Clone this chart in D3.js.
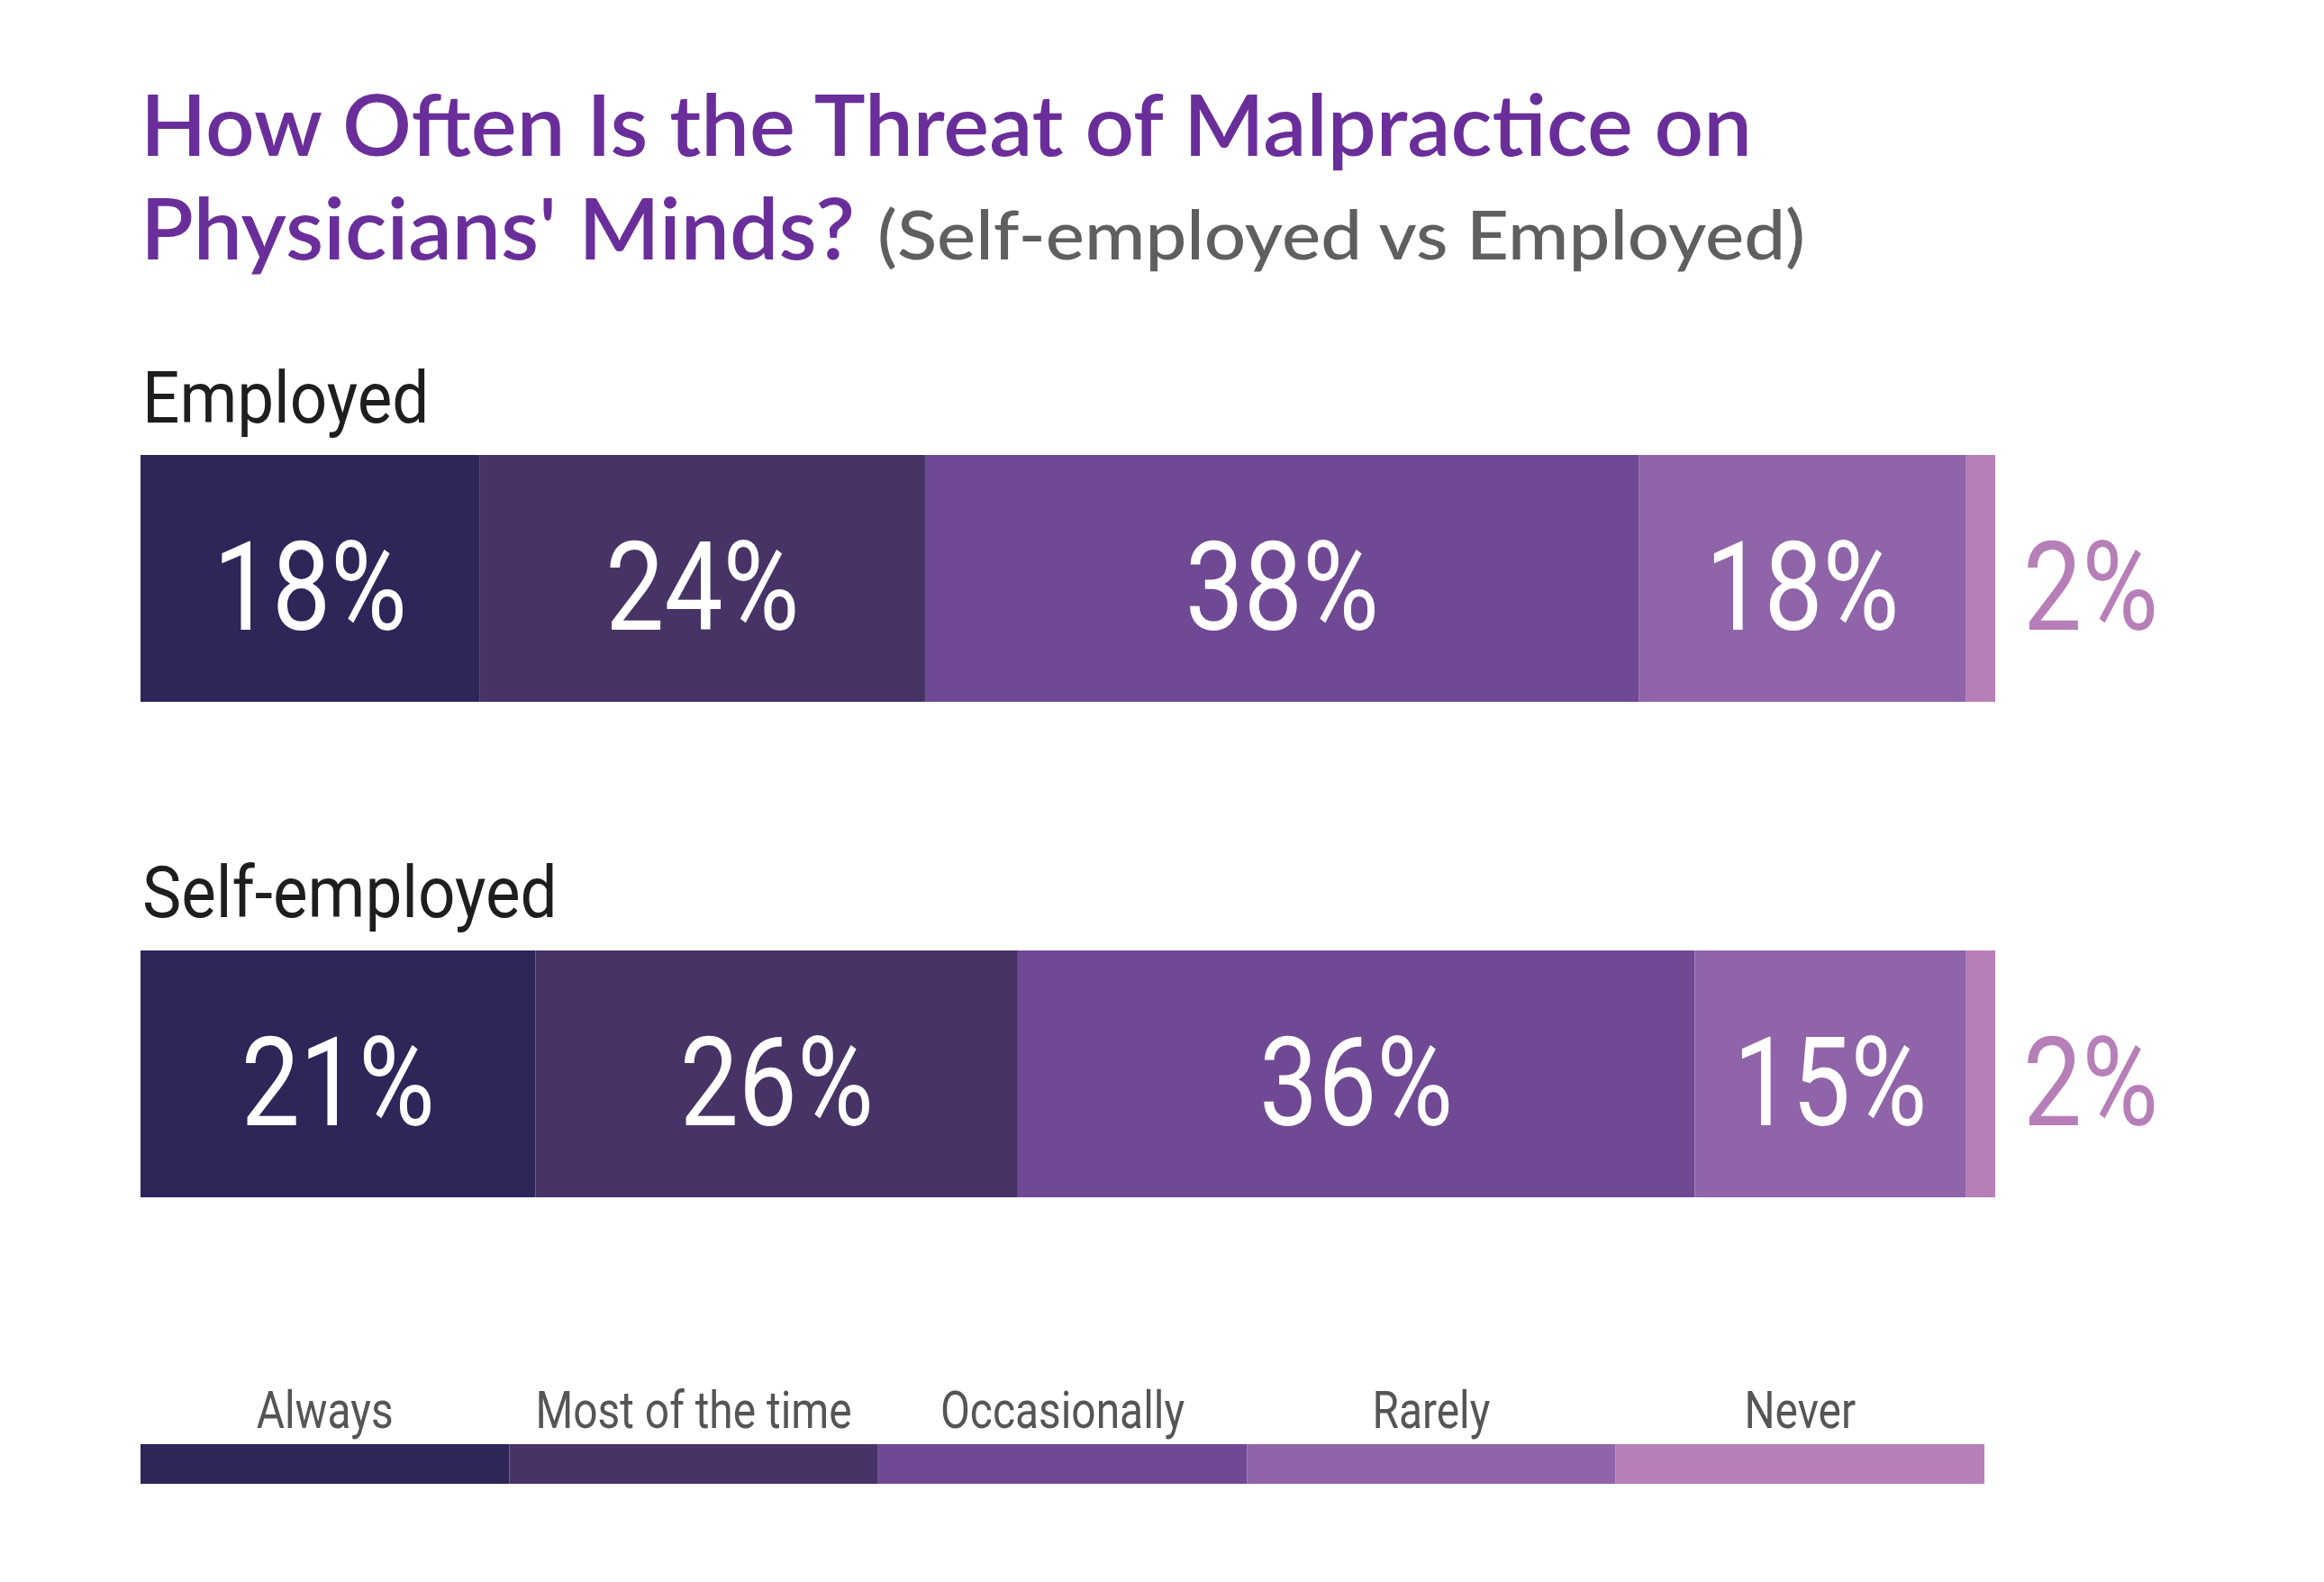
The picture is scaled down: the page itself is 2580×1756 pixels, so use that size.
<!DOCTYPE html>
<html><head><meta charset="utf-8">
<script src="https://cdn.jsdelivr.net/npm/d3@7"></script>
<style>body{margin:0;background:#fff}</style>
</head><body>
<svg id="c" width="2580" height="1756"></svg>
<script>
const titleLine1 = "How Often Is the Threat of Malpractice on";
const titleLine2 = "Physicians' Minds?";
const subtitle = "(Self-employed vs Employed)";
const groups = ["Employed", "Self-employed"];
const categories = ["Always", "Most of the time", "Occasionally", "Rarely", "Never"];
const employedValues = [18.3, 24.0, 38.5, 17.6, 1.6];
const selfEmployedValues = [21.3, 26.0, 36.5, 14.6, 1.6];
const employedLabels = ["18%", "24%", "38%", "18%", "2%"];
const selfEmployedLabels = ["21%", "26%", "36%", "15%", "2%"];
const colors = ["#2e2558", "#473366", "#704994", "#9064a8", "#b77fb8"];

const svg = d3.select("#c");
svg.append("rect").attr("width", 2580).attr("height", 1756).attr("fill", "#fff");

function fit(sel, w) {
  sel.attr("textLength", w).attr("lengthAdjust", "spacingAndGlyphs");
}
function condense(sel, k) {
  sel.each(function () {
    const n = this.getComputedTextLength();
    d3.select(this).attr("textLength", n * k).attr("lengthAdjust", "spacingAndGlyphs");
  });
}

// Title
const t1 = svg.append("text").attr("x", 156).attr("y", 173)
  .attr("font-family", "Lato").attr("font-weight", 600).attr("font-size", 94)
  .attr("fill", "#6a2e9a").text(titleLine1);
fit(t1, 1789);
const t2 = svg.append("text").attr("x", 156).attr("y", 288)
  .attr("font-family", "Lato").attr("font-weight", 600).attr("font-size", 94)
  .attr("fill", "#6a2e9a").text(titleLine2);
fit(t2, 793);
const t3 = svg.append("text").attr("x", 974).attr("y", 288)
  .attr("font-family", "Lato").attr("font-weight", 500).attr("font-size", 76)
  .attr("fill", "#5f5f5f").text(subtitle);
fit(t3, 1030);

const x = d3.scaleLinear().domain([0, 100]).range([156, 2215]);
const barH = 274;
const rows = [
  { g: groups[0], vals: employedValues, labels: employedLabels, top: 505, labelY: 469 },
  { g: groups[1], vals: selfEmployedValues, labels: selfEmployedLabels, top: 1055, labelY: 1018 }
];

rows.forEach(r => {
  let cum = 0;
  const segs = r.vals.map((v, i) => { const s = { v, i, x0: cum, x1: cum + v, label: r.labels[i] }; cum += v; return s; });
  const gl = svg.append("text").attr("x", 158).attr("y", r.labelY)
    .attr("font-family", "Roboto").attr("font-size", 80).attr("fill", "#1e1e1e").text(r.g);
  condense(gl, 0.91);
  svg.append("g").selectAll("rect").data(segs).join("rect")
    .attr("x", d => x(d.x0)).attr("width", d => x(d.x1) - x(d.x0))
    .attr("y", r.top).attr("height", barH).attr("fill", d => colors[d.i]);
  const labs = svg.append("g").selectAll("text").data(segs).join("text")
    .attr("x", d => d.i === 4 ? x(100) + 31 : (x(d.x0) + x(d.x1)) / 2)
    .attr("y", r.top + 194)
    .attr("text-anchor", d => d.i === 4 ? "start" : "middle")
    .attr("font-family", "Roboto").attr("font-size", 138)
    .attr("fill", d => d.i === 4 ? colors[4] : "#fff")
    .text(d => d.label);
  condense(labs, 0.84);
});

// Legend
const lx = d3.scaleBand().domain(categories).range([156, 2203]);
const lg = svg.append("g");
lg.selectAll("rect").data(categories).join("rect")
  .attr("x", d => lx(d)).attr("width", lx.bandwidth())
  .attr("y", 1603).attr("height", 44)
  .attr("fill", (d, i) => colors[i]);
const ll = lg.selectAll("text").data(categories).join("text")
  .attr("x", d => lx(d) + lx.bandwidth() / 2).attr("y", 1585)
  .attr("text-anchor", "middle")
  .attr("font-family", "Roboto").attr("font-size", 57).attr("fill", "#555")
  .text(d => d);
condense(ll, 0.84);
</script>
</body></html>
